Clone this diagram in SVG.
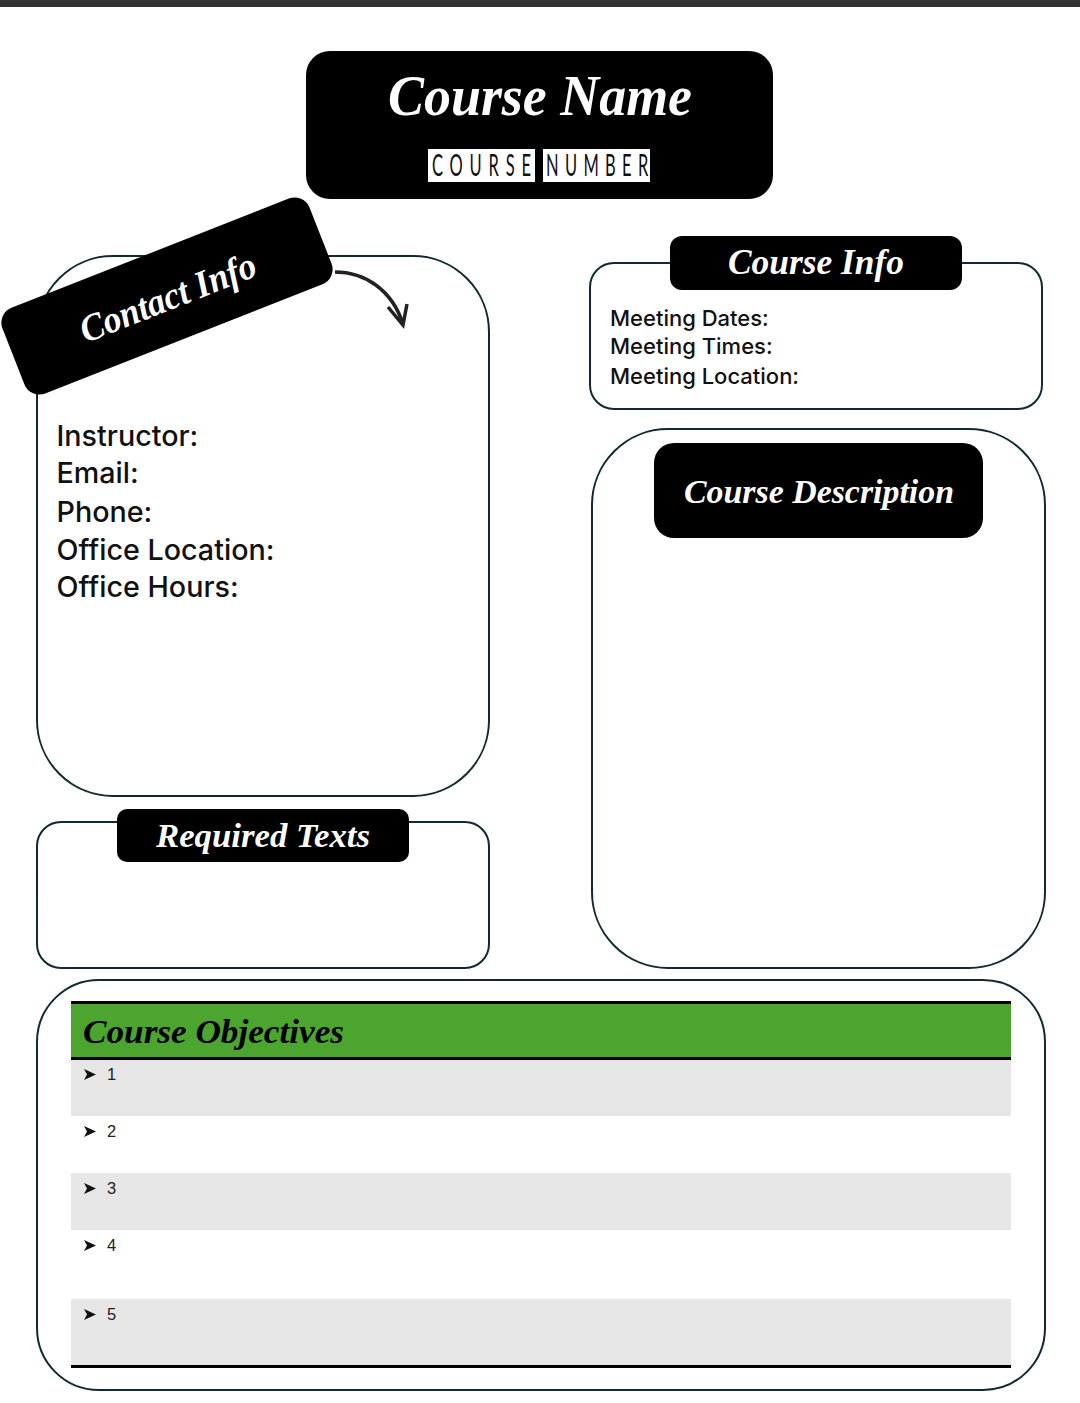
<svg xmlns="http://www.w3.org/2000/svg" width="1080" height="1403" viewBox="0 0 1080 1403">
<style>
.box{fill:none;stroke:#0f2a30;stroke-width:2}
.tag{fill:#000}
.script{font-family:"Liberation Serif",serif;font-style:italic;font-weight:bold;fill:#fff}
.body{font-family:"Inter","Liberation Sans",sans-serif;font-weight:500;fill:#111}
.num{font-family:"Liberation Sans",sans-serif;font-size:16.5px;fill:#222}
.cn{font-family:"Lato","Liberation Sans",sans-serif;font-size:30px;font-weight:400;fill:#111}
.bul{fill:#111}
</style>
<rect width="1080" height="1403" fill="#fff"/>
<rect width="1080" height="7" fill="#333"/>
<g id="contact-box"><rect class="box" x="37" y="256" width="452" height="540" rx="76"/></g>
<g id="course-title">
<rect class="tag" x="306" y="51" width="467" height="148" rx="24"/>
<text class="script" x="540" y="115" font-size="56" text-anchor="middle" textLength="304" lengthAdjust="spacingAndGlyphs">Course Name</text>
<rect x="428" y="149" width="107" height="33" fill="#fff"/>
<rect x="543" y="149" width="107" height="33" fill="#fff"/>
<text class="cn" transform="translate(432 176) scale(.55 1)" textLength="180" lengthAdjust="spacing">COURSE</text>
<text class="cn" transform="translate(546 176) scale(.55 1)" textLength="186" lengthAdjust="spacing">NUMBER</text>
</g>
<g id="contact-info">
<rect class="tag" x="2" y="250" width="330" height="92" rx="16" transform="rotate(-21.5 167 296)"/>
<text class="script" x="168" y="310" font-size="38" text-anchor="middle" textLength="186" lengthAdjust="spacingAndGlyphs" transform="rotate(-21.5 168 298)">Contact Info</text>
<text class="body" font-size="28.7"><tspan x="56.5" y="446">Instructor:</tspan><tspan x="56.5" y="483">Email:</tspan><tspan x="56.5" y="522">Phone:</tspan><tspan x="56.5" y="560">Office Location:</tspan><tspan x="56.5" y="597">Office Hours:</tspan></text>
</g>
<g id="course-info">
<rect class="box" x="590" y="263" width="452" height="146" rx="24"/>
<rect class="tag" x="670" y="236" width="292" height="54" rx="12"/>
<text class="script" x="816" y="274" font-size="36" text-anchor="middle" textLength="176" lengthAdjust="spacingAndGlyphs">Course Info</text>
<text class="body" font-size="22"><tspan x="610" y="326">Meeting Dates:</tspan><tspan x="610" y="354">Meeting Times:</tspan><tspan x="610" y="384">Meeting Location:</tspan></text>
</g>
<g id="course-description">
<rect class="box" x="592" y="429" width="453" height="539" rx="76"/>
<rect class="tag" x="654" y="443" width="329" height="95" rx="20"/>
<text class="script" x="819" y="503" font-size="34" text-anchor="middle" textLength="270" lengthAdjust="spacingAndGlyphs">Course Description</text>
</g>
<g id="required-texts">
<rect class="box" x="37" y="822" width="452" height="146" rx="24"/>
<rect class="tag" x="117" y="809" width="292" height="53" rx="10"/>
<text class="script" x="263" y="847" font-size="34" text-anchor="middle" textLength="214" lengthAdjust="spacingAndGlyphs">Required Texts</text>
</g>
<g id="course-objectives">
<rect class="box" x="37" y="980" width="1008" height="410" rx="62"/>
<rect x="71" y="1003" width="940" height="55" fill="#4ca52f"/>
<rect x="71" y="1059" width="940" height="57" fill="#e6e6e6"/>
<rect x="71" y="1173" width="940" height="57" fill="#e6e6e6"/>
<rect x="71" y="1299" width="940" height="67" fill="#e6e6e6"/>
<rect x="71" y="1001" width="940" height="3" fill="#000"/>
<rect x="71" y="1057" width="940" height="3" fill="#000"/>
<rect x="71" y="1365" width="940" height="3" fill="#000"/>
<text class="script" x="83" y="1043" font-size="34" textLength="261" lengthAdjust="spacingAndGlyphs" style="fill:#000">Course Objectives</text>
<defs><path id="b" d="M0 0L12 5.5L0 11L3 5.5Z"/></defs>
<use href="#b" class="bul" x="84" y="1069"/><text class="num" x="107" y="1080">1</text>
<use href="#b" class="bul" x="84" y="1126"/><text class="num" x="107" y="1137">2</text>
<use href="#b" class="bul" x="84" y="1183"/><text class="num" x="107" y="1194">3</text>
<use href="#b" class="bul" x="84" y="1240"/><text class="num" x="107" y="1251">4</text>
<use href="#b" class="bul" x="84" y="1309"/><text class="num" x="107" y="1320">5</text>
</g>
<g id="connectors">
<path d="M335 272C365 272 392 290 403 324" fill="none" stroke="#222" stroke-width="3.5"/>
<path d="M388 307L403 325L407 304" fill="none" stroke="#222" stroke-width="3.5"/>
</g>
</svg>
